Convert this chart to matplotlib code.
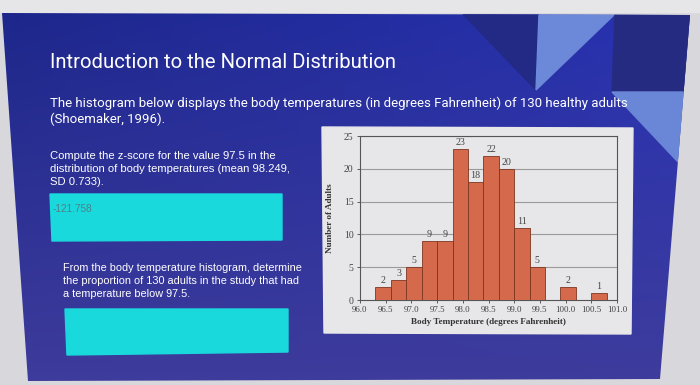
import numpy as np
import matplotlib
matplotlib.use("Agg")
import matplotlib.pyplot as plt
from matplotlib.patches import Polygon

# histogram data (bin width 0.3, starting at 96.3)
bin_starts = [96.3, 96.6, 96.9, 97.2, 97.5, 97.8, 98.1, 98.4, 98.7, 99.0, 99.3, 99.6, 99.9, 100.2, 100.5]
counts = [2, 3, 5, 9, 9, 23, 18, 22, 20, 11, 5, 0, 2, 0, 1]
x_ticks = [96.0, 96.5, 97.0, 97.5, 98.0, 98.5, 99.0, 99.5, 100.0, 100.5, 101.0]
y_ticks = [0, 5, 10, 15, 20, 25]

title = "Introduction to the Normal Distribution"
intro = ["The histogram below displays the body temperatures (in degrees Fahrenheit) of 130 healthy adults",
         "(Shoemaker, 1996)."]
q1 = ["Compute the z-score for the value 97.5 in the",
      "distribution of body temperatures (mean 98.249,",
      "SD 0.733)."]
answer1 = "-121.758"
q2 = ["From the body temperature histogram, determine",
      "the proportion of 130 adults in the study that had",
      "a temperature below 97.5."]

W, H = 700, 385
fig = plt.figure(figsize=(7, 3.85), dpi=100)
fig.patch.set_facecolor("#d8d8dc")

bg = fig.add_axes([0, 0, 1, 1])
bg.set_xlim(0, W)
bg.set_ylim(H, 0)
bg.axis("off")

# ruler strip at the top
bg.add_patch(Polygon([(0, 0), (W, 0), (W, 12), (0, 12)], color="#e6e6e8", zorder=0))

# slide with a blue gradient
slide = Polygon([(2, 13), (690, 15), (660, 379), (28, 381)], closed=True,
                facecolor="none", edgecolor="none")
bg.add_patch(slide)
yy, xx = np.mgrid[0:H, 0:W]
fy = yy / H
fx = xx / W
top_left = np.array([28, 38, 138])
top_mid = np.array([40, 50, 180])
bottom = np.array([62, 60, 156])
horiz = top_left[None, None, :] * (1 - fx[..., None]) + top_mid[None, None, :] * fx[..., None]
img = horiz * (1 - fy[..., None]) + bottom[None, None, :] * fy[..., None]
im = bg.imshow(img.astype(np.uint8), extent=(0, W, H, 0), zorder=1, aspect="auto")
im.set_clip_path(slide)

# decorative shapes top right
shapes = [
    ([(463, 14), (539, 14), (536, 90)], "#222a86"),
    ([(539, 14), (615, 14), (536, 90)], "#6c88d8"),
    ([(615, 14), (690, 15), (684, 92), (612, 92)], "#252b80"),
    ([(612, 92), (684, 92), (678, 162)], "#6a86d6"),
]
for pts, c in shapes:
    p = Polygon(pts, closed=True, color=c, zorder=2)
    bg.add_patch(p)
    p.set_clip_path(slide)

# cyan answer boxes
bg.add_patch(Polygon([(50, 194), (282, 194), (282, 240), (52, 241)], color="#1ad9dc", zorder=3))
bg.add_patch(Polygon([(65, 309), (288, 309), (288, 352), (67, 355)], color="#1ad9dc", zorder=3))

# histogram panel
bg.add_patch(Polygon([(322, 127), (633, 128), (631, 334), (324, 333)], color="#e7e7ea", zorder=3))

# texts
bg.text(50, 63, title, color="white", fontsize=14.6, family="Roboto", va="center", zorder=5)
for i, line in enumerate(intro):
    bg.text(50, 103 + i * 16, line, color="white", fontsize=9.5, family="Roboto", va="center", zorder=5)
for i, line in enumerate(q1):
    bg.text(50, 156 + i * 13, line, color="white", fontsize=8.1, family="Liberation Sans",
            va="center", zorder=5)
bg.text(53, 209, answer1, color="#4f8088", fontsize=7.2, family="Liberation Sans", va="center", zorder=5)
for i, line in enumerate(q2):
    bg.text(63, 268 + i * 13, line, color="white", fontsize=7.8, family="Liberation Sans",
            va="center", zorder=5)

# histogram
ax = fig.add_axes([360 / W, 1 - 300 / H, (617 - 360) / W, (300 - 136) / H])
ax.set_facecolor("none")
ax.bar(bin_starts, counts, width=0.3, align="edge", color="#d4694c",
       edgecolor="#7e3522", linewidth=0.6, zorder=3)
for x0, c in zip(bin_starts, counts):
    if c > 0:
        ax.text(x0 + 0.15, c + 0.3, str(c), ha="center", va="bottom",
                fontsize=7.2, family="Liberation Serif", color="#444444", zorder=4)
ax.set_xlim(96.0, 101.0)
ax.set_ylim(0, 25)
ax.set_xticks(x_ticks)
ax.set_xticklabels(["%.1f" % v for v in x_ticks])
ax.set_yticks(y_ticks)
for v in y_ticks[1:]:
    ax.axhline(v, color="#9a9a9a", linewidth=0.8, zorder=1)
for s in ax.spines.values():
    s.set_color("#555555")
    s.set_linewidth(0.8)
ax.tick_params(labelsize=6.4, colors="#444444", length=2.5, width=0.6, pad=2)
ax.tick_params(axis="y", labelsize=7)
for lab in ax.get_xticklabels() + ax.get_yticklabels():
    lab.set_family("Liberation Serif")
ax.set_xlabel("Body Temperature (degrees Fahrenheit)", fontsize=6.6, family="Liberation Serif",
              fontweight="bold", color="#333333", labelpad=3)
ax.set_ylabel("Number of Adults", fontsize=6.6, family="Liberation Serif",
              fontweight="bold", color="#333333", labelpad=7)

fig.savefig("out.png", dpi=100)
